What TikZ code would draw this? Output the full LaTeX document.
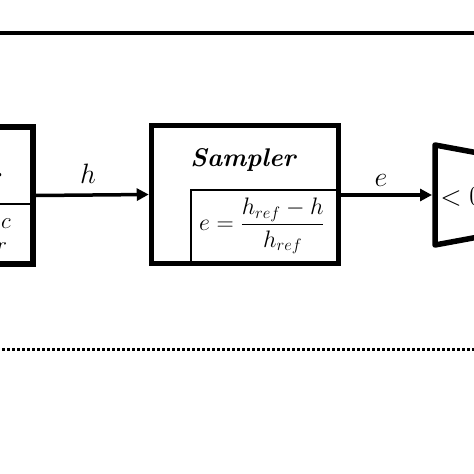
\documentclass[tikz,border=0pt]{standalone}
\usepackage{amsmath}
\usepackage{bm}
\usetikzlibrary{arrows.meta}
\begin{document}
\begin{tikzpicture}[x=1pt,y=-1pt,
  blk/.style={draw,line width=5.5pt,inner sep=0pt},
  arr/.style={line width=3.5pt,-{Triangle[length=12pt,width=12pt]}},
  lbl/.style={font=\fontsize{20}{24}\selectfont,inner sep=0pt,scale=1.35},
  side/.style={font=\fontsize{20}{24}\selectfont,inner sep=0pt,scale=1.1}]
\useasboundingbox (0,0) rectangle (474,474);
\clip (0,0) rectangle (474,474);
% top solid line
\draw[line width=4pt] (-5,33) -- (480,33);
% dotted line
\draw[line width=3pt,dash pattern=on 2.5pt off 2.5pt] (2,349) -- (476,349);
% left block (cut off)
\node[blk,minimum width=93pt,minimum height=137pt] (plant) at (-13.5,195.5) {};
\draw[line width=2pt] (-60,204) -- (33,204);
\node[side,anchor=east] (plantT) at (3,178) {$\bm{r}$};
\node[side,anchor=east,align=right] (plantB) at (11,233) {$ic$\\[-3pt]$r\,$};
% sampler block
\node[blk,minimum width=187pt,minimum height=138pt] (sampler) at (245,194.5) {};
\draw[line width=2pt] (191,262) |- (337,190);
\node[font=\fontsize{20}{24}\selectfont\bfseries\itshape,inner sep=0pt,scale=1.28] (samplerT) at (243,160) {Sampler};
\node[font=\fontsize{20}{24}\selectfont,inner sep=0pt,scale=1.15] (formula) at (262,226) {$e=\dfrac{h_{ref}-h}{h_{ref}}$};
% comparator (cut off)
\draw[line width=5.5pt,line join=round] (500,157) -- (435,145) -- (435,245) -- (500,233);
\coordinate (cmp) at (432,195);
\node[lbl,anchor=west] (cmpT) at (440,197) {$<0$};
% arrows
\draw[arr] (plant.east) -- (sampler.west);
\node[lbl] (hlab) at (88,174) {$h$};
\draw[arr] (sampler.east |- cmp) -- (cmp);
\node[lbl] (elab) at (381,180) {$e$};
\end{tikzpicture}
\end{document}
